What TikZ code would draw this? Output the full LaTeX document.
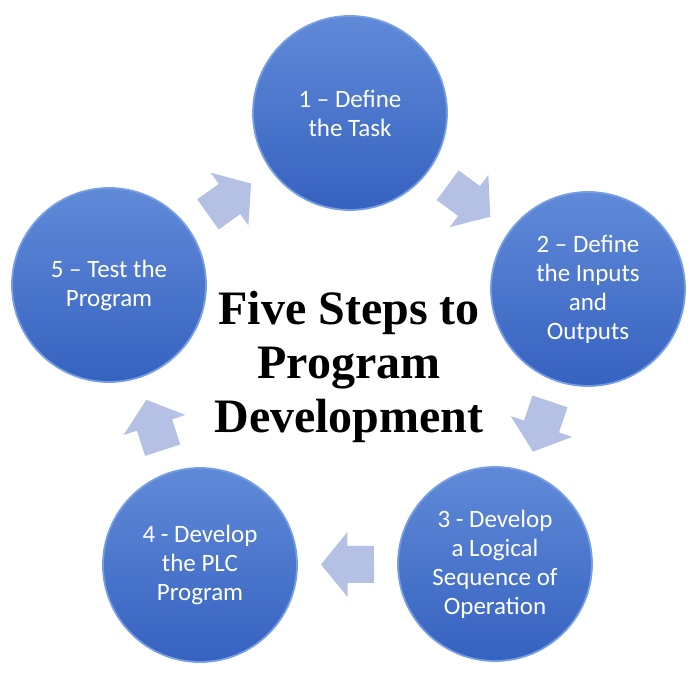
\documentclass[tikz,border=0pt]{standalone}
\usepackage{fontspec}
\setmainfont{Liberation Serif}
\newfontfamily\stepfont{Carlito}
\usepackage{xcolor}
\usepackage{tikz}
\usetikzlibrary{calc}

\definecolor{circtop}{RGB}{96,138,216}
\definecolor{circbot}{RGB}{54,98,192}
\definecolor{circrim}{RGB}{118,158,228}
\definecolor{arrowfill}{RGB}{180,193,228}

\tikzset{
    stepcircle/.style={circle, minimum size=194pt, inner sep=0pt, top color=circtop, bottom color=circbot,
        draw=circrim, line width=1.8pt, text=white, align=center,
        font=\stepfont\fontsize{25}{29}\selectfont},
    titletext/.style={align=center, font=\bfseries\fontsize{48}{54}\selectfont},
    cyclearrow/.style={fill=arrowfill}
}

\begin{document}
\begin{tikzpicture}[x=1pt, y=1pt]
    \useasboundingbox (0,0) rectangle (696,672);

    \node[stepcircle] (task) at (350,559) {1 – Define\\the Task};
    \node[stepcircle] (inputs) at (588,383) {2 – Define\\the Inputs\\and\\Outputs};
    \node[stepcircle] (sequence) at (495,108) {3 - Develop\\a Logical\\Sequence of\\Operation};
    \node[stepcircle] (plc) at (200,107) {4 - Develop\\the PLC\\Program};
    \node[stepcircle] (test) at (109,387) {5 – Test the\\Program};

    \node[titletext] (title) at (349,305) {Five Steps to\\Program\\Development};

    % block arrows half way between the circles
    \foreach \a/\b in {task/inputs, inputs/sequence, sequence/plc, plc/test, test/task} {
      \pgfmathanglebetweenpoints{\pgfpointanchor{\a}{center}}{\pgfpointanchor{\b}{center}}
      \let\ang\pgfmathresult
      \begin{scope}[shift={($(\a)!0.5!(\b)$)}, rotate=\ang]
        \fill[cyclearrow] (-26.5,-18.5) -- (0,-18.5) -- (0,-32.5) -- (26.5,0) -- (0,32.5) -- (0,18.5) -- (-26.5,18.5) -- cycle;
      \end{scope}
    }
\end{tikzpicture}
\end{document}
